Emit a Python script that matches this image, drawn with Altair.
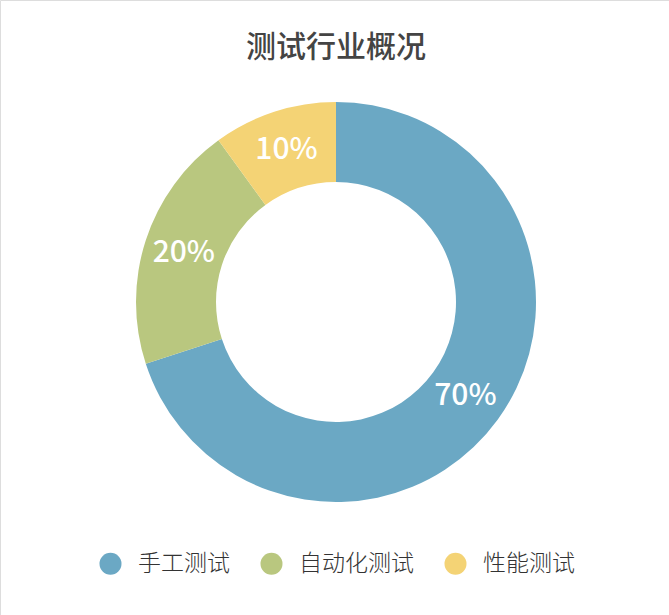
import altair as alt
import pandas as pd

categories = ["手工测试", "自动化测试", "性能测试"]
values = [70, 20, 10]
labels = ["70%", "20%", "10%"]
colors = ["#6BA8C4", "#B9C77F", "#F4D375"]
title_text = "测试行业概况"

df = pd.DataFrame({
    "category": categories,
    "value": values,
    "label": labels,
    "order": list(range(len(categories))),
})

CX, CY = 336, 302
FONT = "Noto Sans CJK SC"

base = alt.Chart(df).encode(
    theta=alt.Theta("value:Q", stack=True),
    order=alt.Order("order:Q"),
)

arcs = base.mark_arc(outerRadius=200, innerRadius=120, x=CX, y=CY).encode(
    color=alt.Color(
        "category:N",
        scale=alt.Scale(domain=categories, range=colors),
        sort=categories,
        legend=alt.Legend(
            title=None,
            orient="none",
            direction="horizontal",
            legendX=99,
            legendY=552,
            symbolType="circle",
            symbolSize=484,
            symbolStrokeWidth=0,
            symbolOpacity=1,
            labelFont=FONT,
            labelFontSize=23,
            labelFontWeight=300,
            labelColor="#333333",
            labelOffset=16,
            columnPadding=30,
            padding=0,
            labelLimit=300,
        ),
    )
)

texts = base.mark_text(
    radius=160, x=CX, y=CY, font=FONT, fontSize=30, fontWeight=500,
    color="white", align="center", baseline="middle",
).encode(text="label:N")

title = alt.Chart(pd.DataFrame({"t": [title_text]})).mark_text(
    font=FONT, fontSize=30, fontWeight=500, color="#444444",
    align="center", baseline="middle",
).encode(text="t:N", x=alt.value(CX), y=alt.value(48))

chart = alt.layer(arcs, texts, title).properties(
    width=669, height=615, padding=0, autosize=alt.AutoSizeParams(type="none"),
).configure_view(stroke=None).configure(background="white")

chart.save("out.html", embed_options={"renderer": "svg", "actions": False})
